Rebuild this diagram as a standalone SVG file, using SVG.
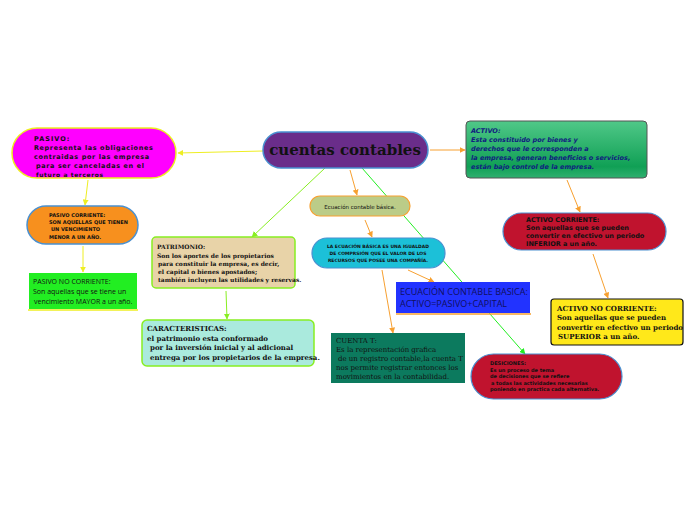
<svg xmlns="http://www.w3.org/2000/svg" width="696" height="520" viewBox="0 0 696 520">
<defs>
<marker id="ay" viewBox="0 0 10 10" refX="9" refY="5" markerWidth="6" markerHeight="6" orient="auto"><path d="M0,0L10,5L0,10z" fill="#eeee22"/></marker>
<marker id="ag" viewBox="0 0 10 10" refX="9" refY="5" markerWidth="6" markerHeight="6" orient="auto"><path d="M0,0L10,5L0,10z" fill="#88ee22"/></marker>
<marker id="ag2" viewBox="0 0 10 10" refX="9" refY="5" markerWidth="6" markerHeight="6" orient="auto"><path d="M0,0L10,5L0,10z" fill="#22ee22"/></marker>
<marker id="ao" viewBox="0 0 10 10" refX="9" refY="5" markerWidth="6" markerHeight="6" orient="auto"><path d="M0,0L10,5L0,10z" fill="#f7a030"/></marker>
<linearGradient id="gact" x1="0" y1="0" x2="0" y2="1"><stop offset="0" stop-color="#50c888"/><stop offset="0.8" stop-color="#10a055"/><stop offset="1" stop-color="#30b070"/></linearGradient>
</defs>
<style>
text{font-family:"DejaVu Sans","Liberation Sans",sans-serif;font-size:6.5px;font-weight:bold;fill:#111}
.serif{font-family:"DejaVu Serif","Liberation Serif",serif}
.open{font-family:"Open Sans","Liberation Sans",sans-serif;font-weight:normal}
.y{stroke:#eeee22;stroke-width:1;fill:none;marker-end:url(#ay)}
.g{stroke:#88ee22;stroke-width:1;fill:none;marker-end:url(#ag)}
.g2{stroke:#22ee22;stroke-width:1;fill:none;marker-end:url(#ag2)}
.o{stroke:#f7a030;stroke-width:1;fill:none;marker-end:url(#ao)}
</style>
<rect width="696" height="520" fill="#fff"/>
<g id="connectors">
<line class="y" x1="263" y1="151" x2="178" y2="153"/>
<line class="y" x1="88" y1="180" x2="85" y2="205"/>
<line class="y" x1="83" y1="246" x2="83" y2="272"/>
<line class="g" x1="325" y1="168" x2="252" y2="237"/>
<line class="g" x1="226" y1="291" x2="227" y2="319"/>
<line class="o" x1="350" y1="170" x2="357" y2="195"/>
<line class="o" x1="365" y1="220" x2="372" y2="237"/>
<line class="g2" x1="362" y1="168" x2="525" y2="354"/>
<line class="o" x1="408" y1="270" x2="434" y2="282"/>
<line class="o" x1="382" y1="270" x2="393" y2="333"/>
<line class="o" x1="430" y1="150" x2="465" y2="150"/>
<line class="o" x1="567" y1="180" x2="580" y2="212"/>
<line class="o" x1="593" y1="254" x2="608" y2="298"/>
</g>
<g id="center"><rect x="263" y="132" width="165" height="36" rx="18" fill="#6a2d8a" stroke="#4a90d0" stroke-width="1.5"/><text x="345" y="155" text-anchor="middle" class="serif" style="font-size:15px">cuentas contables</text></g>
<g id="pasivo"><rect x="12" y="128" width="164" height="50" rx="25" fill="#ff00ff" stroke="#eeee22" stroke-width="1.5"/>
<text x="34" y="141" style="letter-spacing:1px">PASIVO:</text><text x="34" y="150" style="letter-spacing:0.6px">Representa las obligaciones</text><text x="34" y="159" style="letter-spacing:0.6px">contraidas por las empresa</text><text x="36" y="168" style="letter-spacing:0.6px">para ser canceladas en el</text><text x="36" y="177" style="letter-spacing:0.6px;font-size:6px">futuro a terceros</text></g>
<g id="pasivo-corriente"><rect x="27" y="206" width="111" height="38" rx="19" fill="#f7901e" stroke="#4a90d0" stroke-width="1.5"/>
<text x="49" y="217" style="font-size:5px">PASIVO CORRIENTE:</text><text x="49" y="224" style="font-size:5px">SON AQUELLAS QUE TIENEN</text><text x="51" y="231" style="font-size:5px">UN VENCIMIENTO</text><text x="49" y="239" style="font-size:5px">MENOR A UN AÑO.</text></g>
<g id="pasivo-no-corriente"><rect x="29" y="273" width="108" height="36" fill="#22ee22"/><line x1="28" y1="310" x2="138" y2="310" stroke="#eeee22" stroke-width="1.5"/>
<text x="33" y="284" class="open" style="font-size:7px">PASIVO NO CORRIENTE:</text><text x="33" y="294" class="open" style="font-size:7px">Son aquellas que se tiene un</text><text x="34" y="304" class="open" style="font-size:7px">vencimiento MAYOR a un año.</text></g>
<g id="patrimonio"><rect x="152" y="237" width="143" height="51" rx="4" fill="#e8d3a8" stroke="#88ee22" stroke-width="1.5"/>
<text x="157" y="249" class="serif" style="font-size:6px">PATRIMONIO:</text><text x="157" y="258" class="serif" style="font-size:6px">Son los aportes de los propietarios</text><text x="158" y="266" class="serif" style="font-size:6px">para constituir la empresa, es decir,</text><text x="158" y="274" class="serif" style="font-size:6px">el capital o bienes apostados;</text><text x="158" y="282" class="serif" style="font-size:6px">también incluyen las utilidades y reservas.</text></g>
<g id="caracteristicas"><rect x="142" y="320" width="172" height="46" rx="5" fill="#aaeadd" stroke="#88ee22" stroke-width="1.5"/>
<text x="147" y="331" class="serif" style="font-size:7px">CARACTERISTICAS:</text><text x="147" y="341" class="serif" style="font-size:7px">el patrimonio esta conformado</text><text x="150" y="350" class="serif" style="font-size:7px">por la inversión inicial y al adicional</text><text x="150" y="360" class="serif" style="font-size:7px">entrega por los propietarios de la empresa.</text></g>
<g id="ecuacion"><rect x="310" y="196" width="100" height="20" rx="10" fill="#bbcc88" stroke="#f7a030" stroke-width="1.2"/><text x="360" y="209" text-anchor="middle" style="font-size:5.5px;font-weight:normal">Ecuación contable básica.</text></g>
<g id="la-ecuacion"><rect x="312" y="238" width="133" height="30" rx="15" fill="#1cc0d8" stroke="#4a90d0" stroke-width="1.2"/>
<text x="378" y="248" text-anchor="middle" style="font-size:4.5px">LA ECUACIÓN BÁSICA ES UNA IGUALDAD</text><text x="378" y="255" text-anchor="middle" style="font-size:4.5px">DE COMPRSIÓN QUE EL VALOR DE LOS</text><text x="378" y="262" text-anchor="middle" style="font-size:4.5px">RECURSOS QUE POSEE UNA COMPAÑÍA.</text></g>
<g id="ecuacion-basica"><rect x="396" y="282" width="134" height="31" fill="#2233ff"/><line x1="396" y1="314" x2="531" y2="314" stroke="#f7a030" stroke-width="1.5"/>
<text x="400" y="295" class="open" style="font-size:9px;fill:#101060">ECUACIÓN CONTABLE BASICA:</text><text x="400" y="307" class="open" style="font-size:9px;fill:#101060">ACTIVO=PASIVO+CAPITAL</text></g>
<g id="cuenta-t"><rect x="331" y="333" width="134" height="50" fill="#0c7a5e"/>
<text x="336" y="343" class="serif" style="font-size:7px;font-weight:normal">CUENTA T:</text><text x="336" y="352" class="serif" style="font-size:7px;font-weight:normal">Es la representación grafica</text><text x="338" y="361" class="serif" style="font-size:7px;font-weight:normal">de un registro contable,la cuenta T</text><text x="336" y="370" class="serif" style="font-size:7px;font-weight:normal">nos permite registrar entonces los</text><text x="336" y="379" class="serif" style="font-size:7px;font-weight:normal">movimientos en la contabilidad.</text></g>
<g id="activo"><rect x="466" y="121" width="181" height="57" rx="4" fill="url(#gact)" stroke="#555" stroke-width="1"/>
<text x="471" y="133" style="font-size:6.5px;font-style:italic;fill:#102080">ACTIVO:</text><text x="471" y="142" style="font-size:6.5px;font-style:italic;fill:#102080">Esta constituido por bienes y</text><text x="471" y="151" style="font-size:6.5px;font-style:italic;fill:#102080">derechos que le corresponden a</text><text x="471" y="160" style="font-size:6.5px;font-style:italic;fill:#102080">la empresa, generan beneficios o servicios,</text><text x="471" y="169" style="font-size:6.5px;font-style:italic;fill:#102080">están bajo control de la empresa.</text></g>
<g id="activo-corriente"><rect x="503" y="213" width="163" height="37" rx="18.5" fill="#c0132e" stroke="#4a90d0" stroke-width="1.2"/>
<text x="526" y="222" style="font-size:6.5px">ACTIVO CORRIENTE:</text><text x="526" y="230" style="font-size:6.5px">Son aquellas que se pueden</text><text x="526" y="238" style="font-size:6.5px">convertir en efectivo un periodo</text><text x="526" y="246" style="font-size:6.5px">INFERIOR  a un año.</text></g>
<g id="activo-no-corriente"><rect x="551" y="299" width="132" height="46" rx="3" fill="#ffe81a" stroke="#111" stroke-width="1.2"/>
<text x="557" y="311" class="serif" style="font-size:7px">ACTIVO NO CORRIENTE:</text><text x="557" y="320" class="serif" style="font-size:7px">Son aquellas que se pueden</text><text x="557" y="330" class="serif" style="font-size:7px">convertir en efectivo un periodo</text><text x="558" y="339" class="serif" style="font-size:7px">SUPERIOR a un año.</text></g>
<g id="desiciones"><rect x="471" y="354" width="151" height="45" rx="22.5" fill="#c0132e" stroke="#4a90d0" stroke-width="1.2"/>
<text x="490" y="365" style="font-size:5px">DESICIONES:</text><text x="490" y="372" style="font-size:5px">Es un proceso de tema</text><text x="490" y="378" style="font-size:5px">de decisiones que se refiere</text><text x="491" y="385" style="font-size:5px">a todas las actividades necesarias</text><text x="490" y="391" style="font-size:5px">poniendo en practica cada alternativa.</text></g>
</svg>
